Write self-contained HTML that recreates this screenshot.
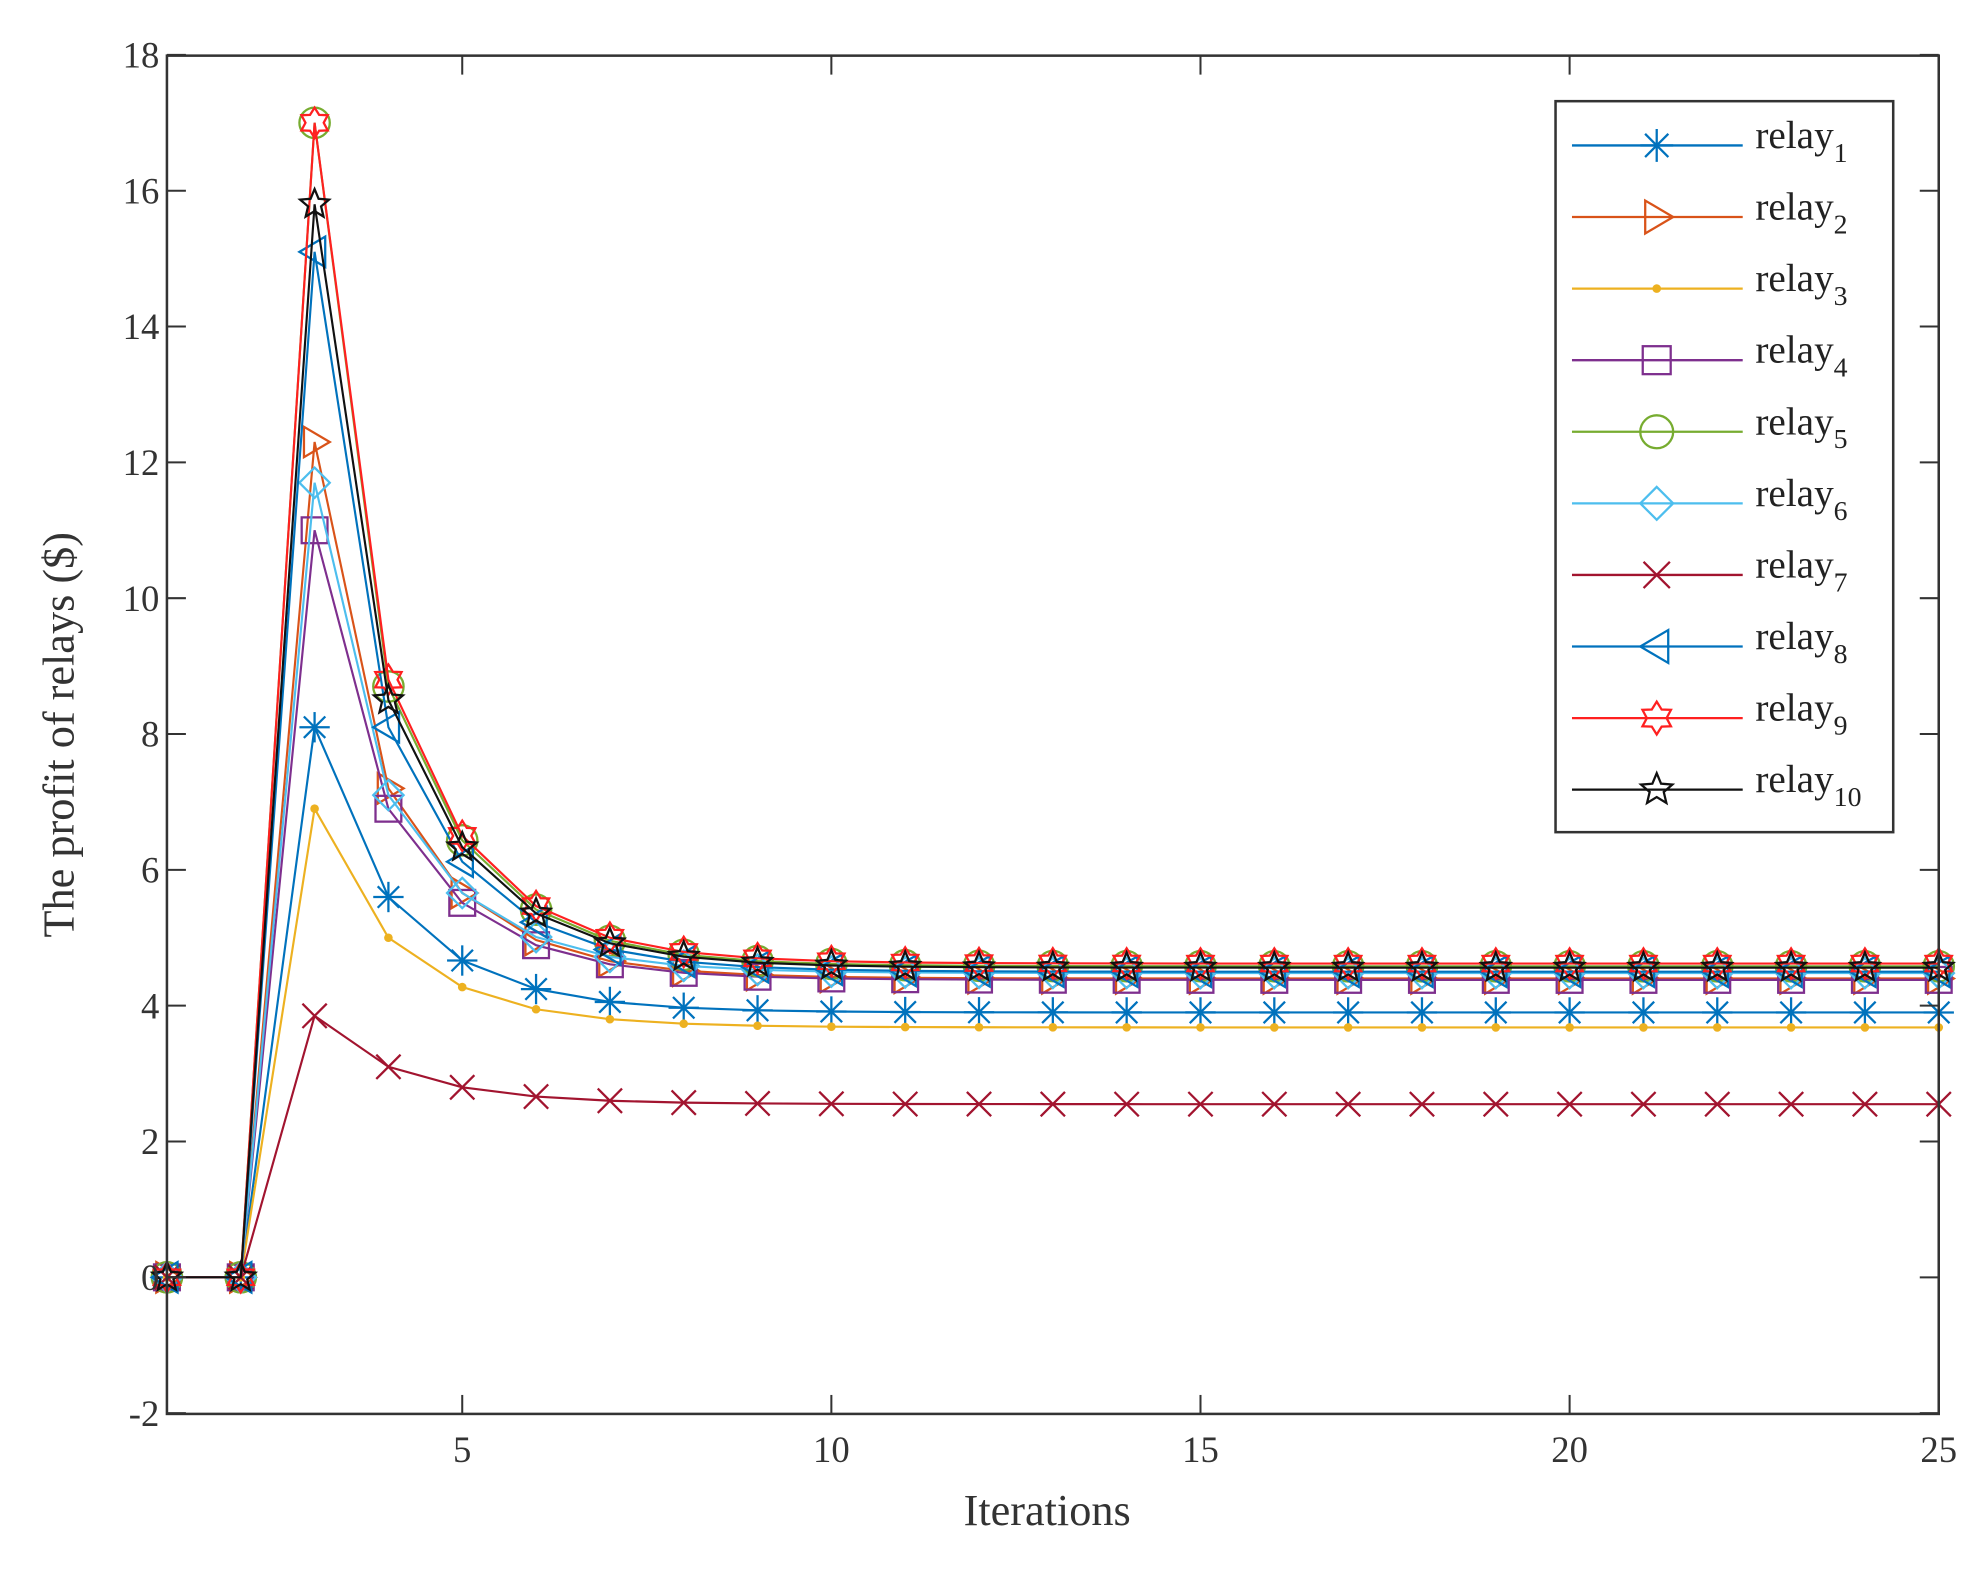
<!DOCTYPE html>
<html><head><meta charset="utf-8"><style>
html,body{margin:0;padding:0;background:#fff;}
svg{display:block;}
</style></head><body>
<svg id="s" width="1983" height="1572" viewBox="0 0 1568 1243" preserveAspectRatio="none" xmlns="http://www.w3.org/2000/svg" font-family="Liberation Serif, serif">
<rect x="0" y="0" width="1568" height="1243" fill="#fff"/>
<g id="plot"></g>
<g id="axes" stroke="#333" stroke-width="2" fill="none">
<rect x="132" y="44" width="1401" height="1074"/>
</g>
<g id="ticks" stroke="#333" stroke-width="1.6"></g>
<g id="labels" fill="#333" font-size="29"></g>
<text x="828" y="1206" text-anchor="middle" font-size="35" fill="#333">Iterations</text>
<text transform="translate(58,581) rotate(-90)" text-anchor="middle" font-size="35" fill="#333">The profit of relays ($)</text>
<rect x="1230" y="80" width="267" height="578" fill="#fff" stroke="#333" stroke-width="2"/>
<g id="legend"></g>
</svg>
<script>
const NS="http://www.w3.org/2000/svg";
function el(t,a,p){const e=document.createElementNS(NS,t);for(const k in a)e.setAttribute(k,a[k]);p.appendChild(e);return e;}
const X=x=>132+(x-1)*58.375, Y=y=>1010-y*53.7;
const ticks=document.getElementById('ticks'), labels=document.getElementById('labels');
for(let v=-2;v<=18;v+=2){const y=Y(v);
 el('line',{x1:132,y1:y,x2:147,y2:y},ticks);el('line',{x1:1533,y1:y,x2:1518,y2:y},ticks);
 const t=el('text',{x:126,y:y+10,'text-anchor':'end'},labels);t.textContent=v;}
for(let v=5;v<=25;v+=5){const x=X(v);
 el('line',{x1:x,y1:1118,x2:x,y2:1103},ticks);el('line',{x1:x,y1:44,x2:x,y2:59},ticks);
 const t=el('text',{x:x,y:1156,'text-anchor':'middle'},labels);t.textContent=v;}
const S=[
 {c:'#0072BD',m:'star',p3:8.1,p4:5.6,f:3.9},
 {c:'#D95319',m:'tri',p3:12.3,p4:7.2,f:4.4},
 {c:'#EDB120',m:'dot',p3:6.9,p4:5.0,f:3.68},
 {c:'#7E2F8E',m:'sq',p3:11.0,p4:6.9,f:4.38},
 {c:'#77AC30',m:'circ',p3:17.0,p4:8.7,f:4.58},
 {c:'#4DBEEE',m:'dia',p3:11.7,p4:7.1,f:4.48},
 {c:'#A2142F',m:'x',p3:3.85,p4:3.1,f:2.55},
 {c:'#0072BD',m:'tril',p3:15.1,p4:8.1,f:4.5},
 {c:'#FF2020',m:'hex',p3:17.0,p4:8.8,f:4.62},
 {c:'#111111',m:'pent',p3:15.8,p4:8.5,f:4.56}];
function marker(g,m,x,y,c,s){
 const a={fill:'none',stroke:c,'stroke-width':1.8};
 if(m==='star'){for(const ang of [0,45,90,135]){const r=ang*Math.PI/180;el('line',Object.assign({x1:x-s*Math.cos(r),y1:y-s*Math.sin(r),x2:x+s*Math.cos(r),y2:y+s*Math.sin(r)},a),g);}}
 else if(m==='x'){el('path',Object.assign({d:`M${x-s*.8},${y-s*.8}L${x+s*.8},${y+s*.8}M${x-s*.8},${y+s*.8}L${x+s*.8},${y-s*.8}`},a),g);}
 else if(m==='dot'){el('circle',{cx:x,cy:y,r:3.4,fill:c},g);}
 else if(m==='sq'){el('rect',Object.assign({x:x-s*.85,y:y-s*.85,width:s*1.7,height:s*1.7},a),g);}
 else if(m==='circ'){el('circle',Object.assign({cx:x,cy:y,r:s},a),g);}
 else if(m==='dia'){el('path',Object.assign({d:`M${x},${y-s}L${x+s},${y}L${x},${y+s}L${x-s},${y}Z`},a),g);}
 else if(m==='tri'){el('path',Object.assign({d:`M${x-s*.7},${y-s}L${x+s},${y}L${x-s*.7},${y+s}Z`},a),g);}
 else if(m==='tril'){el('path',Object.assign({d:`M${x+s*.7},${y-s}L${x-s},${y}L${x+s*.7},${y+s}Z`},a),g);}
 else if(m==='hex'){let d='';for(let i=0;i<12;i++){const r=(i%2?s*.6:s),an=(i*30-90)*Math.PI/180;d+=(i?'L':'M')+(x+r*Math.cos(an))+','+(y+r*Math.sin(an));}el('path',Object.assign({d:d+'Z'},a),g);}
 else if(m==='pent'){let d='';for(let i=0;i<10;i++){const r=(i%2?s*.45:s),an=(i*36-90)*Math.PI/180;d+=(i?'L':'M')+(x+r*Math.cos(an))+','+(y+r*Math.sin(an));}el('path',Object.assign({d:d+'Z'},a),g);}
}
const plot=document.getElementById('plot');
for(const s of S){
 const pts=[];
 for(let t=1;t<=25;t++){let v;
  if(t<=2)v=0;else if(t===3)v=s.p3;else v=s.f+(s.p4-s.f)*Math.pow(0.45,t-4);
  pts.push([X(t),Y(v)]);}
 el('polyline',{points:pts.map(p=>p.join(',')).join(' '),fill:'none',stroke:s.c,'stroke-width':1.7},plot);
 for(const p of pts)marker(plot,s.m,p[0],p[1],s.c,12);
}
const lg=document.getElementById('legend');
S.forEach((s,i)=>{const y=115+56.6*i;
 el('line',{x1:1243,y1:y,x2:1378,y2:y,stroke:s.c,'stroke-width':1.8},lg);
 marker(lg,s.m,1310,y,s.c,13);
 const t=el('text',{x:1388,y:y+2,'font-size':31,fill:'#222'},lg);
 t.textContent='relay';
 const sub=el('tspan',{'font-size':22,dy:11},t);sub.textContent=(i+1);
});
</script>
</body></html>
